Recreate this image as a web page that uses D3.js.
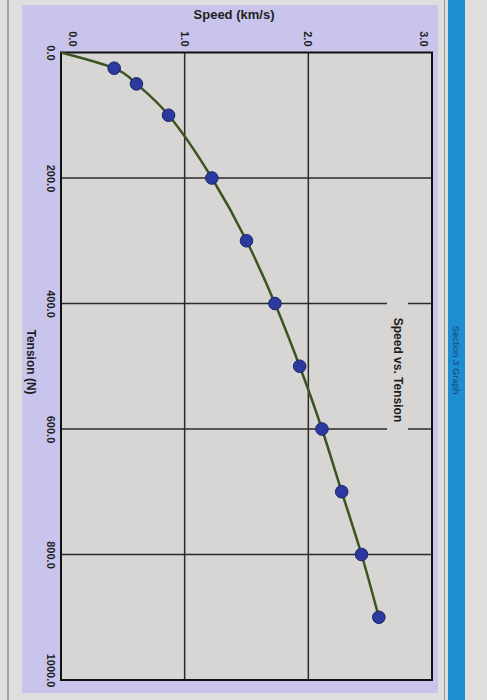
<!DOCTYPE html>
<html>
  <head>
    <meta charset="utf-8" />
    <script src="https://d3js.org/d3.v7.min.js"></script>
    <style>
      body { margin: 0; background: #e0dedc; }
      text { font-family: "Liberation Sans", Arial, sans-serif; font-weight: bold; fill: #1e1e1e; }
    </style>
  </head>
  <body>
    <svg id="viz" width="487" height="700"></svg>
    <script>
      // data
      var tension = [25, 50, 100, 200, 300, 400, 500, 600, 700, 800, 900];
      var speed = [0.43, 0.61, 0.87, 1.22, 1.50, 1.73, 1.93, 2.11, 2.27, 2.43, 2.57];
      var fitStart = [0, 0];  // curve starts at origin
      var tensionTicks = [0, 200, 400, 600, 800, 1000];
      var speedTicks = [0, 1, 2, 3];

      var svg = d3.select("#viz");

      // page furniture (photo of a screen)
      svg.append("rect").attr("width", 487).attr("height", 700).attr("fill", "#e0dedc");
      svg.append("line").attr("x1", 8).attr("x2", 8).attr("y1", 0).attr("y2", 700)
        .attr("stroke", "#6a6a6a").attr("stroke-width", 1);
      svg.append("rect").attr("x", 22).attr("y", 5).attr("width", 416).attr("height", 688)
        .attr("fill", "#c8c4ec");
      svg.append("rect").attr("x", 444).attr("y", 0).attr("width", 1).attr("height", 700)
        .attr("fill", "#9a9a9a");
      svg.append("rect").attr("x", 448).attr("y", 0).attr("width", 17).attr("height", 700)
        .attr("fill", "#1e8dd2");
      svg.append("text").attr("transform", "translate(453,360) rotate(90)")
        .attr("text-anchor", "middle").attr("font-size", 9.5).style("font-weight", "normal")
        .style("fill", "#15467a").text("Section 3 Graph");

      // chart is drawn in normal orientation, then turned a quarter clockwise
      var W = 627.5, H = 371;
      var g = svg.append("g").attr("transform", "translate(432,52.5) rotate(90)");

      var x = d3.scaleLinear().domain([0, 1000]).range([0, W]);
      var y = d3.scaleLinear().domain([0, 3]).range([H, 0]);

      g.append("rect").attr("width", W).attr("height", H).attr("fill", "#d8d6d4");

      // grid
      g.selectAll(".vg").data(tensionTicks.slice(1, -1)).enter().append("line")
        .attr("x1", d => x(d)).attr("x2", d => x(d)).attr("y1", 0).attr("y2", H)
        .attr("stroke", "#2b2b2b").attr("stroke-width", 1.5);
      g.selectAll(".hg").data(speedTicks.slice(1, -1)).enter().append("line")
        .attr("x1", 0).attr("x2", W).attr("y1", d => y(d)).attr("y2", d => y(d))
        .attr("stroke", "#2b2b2b").attr("stroke-width", 1.5);

      // title with its own backing box
      g.append("rect").attr("x", 248).attr("y", 24).attr("width", 132).attr("height", 21)
        .attr("fill", "#d8d6d4");
      g.append("text").attr("x", 317.5).attr("y", 38).attr("text-anchor", "middle")
        .attr("font-size", 12).text("Speed vs. Tension");

      g.append("rect").attr("width", W).attr("height", H).attr("fill", "none")
        .attr("stroke", "#111").attr("stroke-width", 2);

      // axes
      var xAxis = g.append("g").attr("transform", "translate(0," + H + ")")
        .call(d3.axisBottom(x).tickValues(tensionTicks).tickSize(0).tickPadding(6)
          .tickFormat(d3.format(".1f")));
      var yAxis = g.append("g")
        .call(d3.axisLeft(y).tickValues(speedTicks).tickSize(0).tickPadding(6)
          .tickFormat(d3.format(".1f")));
      [xAxis, yAxis].forEach(a => {
        a.select(".domain").remove();
        a.selectAll("text").attr("font-size", 11).attr("fill", null);
      });
      // end labels are pulled inside the axis range
      xAxis.selectAll("text").filter(d => d === 1000).attr("dx", -10);
      yAxis.selectAll("text").filter(d => d === 0).attr("dy", "-0.75em");
      yAxis.selectAll("text").filter(d => d === 3).attr("dy", "1.05em");
      yAxis.selectAll("text").attr("x", -6);

      g.append("text").attr("transform", "translate(-34," + (H / 2 + 12.5) + ") rotate(-90)")
        .attr("text-anchor", "middle").attr("font-size", 13).text("Speed (km/s)");
      g.append("text").attr("x", 309.5).attr("y", H + 34).attr("text-anchor", "middle")
        .attr("font-size", 12).text("Tension (N)");

      // fitted curve through origin and data
      var curvePts = [fitStart].concat(tension.map((t, i) => [t, speed[i]]));
      g.append("path").datum(curvePts)
        .attr("d", d3.line().x(d => x(d[0])).y(d => y(d[1])).curve(d3.curveNatural))
        .attr("fill", "none").attr("stroke", "#3b5420").attr("stroke-width", 2.5);

      g.selectAll(".dot").data(tension).enter().append("circle")
        .attr("cx", d => x(d)).attr("cy", (d, i) => y(speed[i])).attr("r", 6.3)
        .attr("fill", "#2c3aa0").attr("stroke", "#1c2566").attr("stroke-width", 1);
    </script>
  </body>
</html>
